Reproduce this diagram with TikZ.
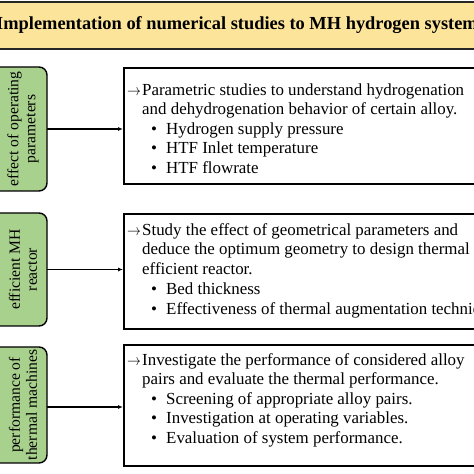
\documentclass[tikz,border=0pt]{standalone}
\usepackage{fontspec}
\setmainfont{Liberation Serif}
\usetikzlibrary{positioning,arrows.meta}

\definecolor{titlefill}{HTML}{FCE59B}
\definecolor{sidefill}{HTML}{A9D18E}

\newcommand{\arrline}[1]{\makebox[15pt][l]{\scalebox{0.8}[0.9]{$\rightarrow$}}#1}
\newcommand{\contline}[1]{\hspace*{15pt}#1}
\newcommand{\bulline}[1]{\hspace*{24pt}\makebox[15pt][l]{\textbullet}#1}

\begin{document}
\begin{tikzpicture}[x=1pt, y=1pt,
    sidebox/.style={draw, fill=sidefill, line width=1.4pt, rounded corners=8pt},
    sidetext/.style={rotate=90, align=center, inner sep=0pt, font=\fontsize{15.6}{17}\selectfont},
    infobox/.style={draw, line width=1.8pt},
    infotext/.style={anchor=north west, align=left, inner sep=0pt, font=\fontsize{16.9}{19.5}\selectfont},
    link/.style={-{Latex[length=5pt, width=4pt]}, line width=1.2pt}]
    \useasboundingbox (0,0) rectangle (474,474);
    \clip (0,0) rectangle (474,474);

    % title bar
    \draw [fill=titlefill, draw=black!85, line width=2.4pt] (-10,472) rectangle (490,425);
    \node [font=\fontsize{18.4}{21}\selectfont\bfseries] (title) at (237,449)
        {Implementation of numerical studies to MH hydrogen system};

    % left green boxes
    \draw [sidebox] (-30,407) rectangle (47,283);
    \draw [sidebox] (-30,261) rectangle (47,148);
    \draw [sidebox] (-30,127) rectangle (47,11);
    \node [sidetext] (side1) at (23,345) {effect of operating\\parameters};
    \node [sidetext] (side2) at (23,204.5) {efficient MH\\reactor};
    \node [sidetext] (side3) at (23,69) {performance of\\thermal machines};
    \coordinate (s1) at (47,345);
    \coordinate (s2) at (47,204.5);
    \coordinate (s3) at (47,67);

    % right boxes
    \node [infobox, minimum width=367, minimum height=116, anchor=north west] (info1) at (123,407) {};
    \node [infobox, minimum width=367, minimum height=115, anchor=north west] (info2) at (123,261) {};
    \node [infobox, minimum width=367, minimum height=121, anchor=north west] (info3) at (123,130) {};

    \node [infotext] (text1) at (127,390.5) {%
        \arrline{Parametric studies to understand hydrogenation}\\
        \contline{and dehydrogenation behavior of certain alloy.}\\
        \bulline{Hydrogen supply pressure}\\
        \bulline{HTF Inlet temperature}\\
        \bulline{HTF flowrate}};
    \node [infotext] (text2) at (127,251) {%
        \arrline{Study the effect of geometrical parameters and}\\
        \contline{deduce the optimum geometry to design thermal}\\
        \contline{efficient reactor.}\\[1pt]
        \bulline{Bed thickness}\\
        \bulline{Effectiveness of thermal augmentation techniques}};
    \node [infotext] (text3) at (127,121) {%
        \arrline{Investigate the performance of considered alloy}\\
        \contline{pairs and evaluate the thermal performance.}\\
        \bulline{Screening of appropriate alloy pairs.}\\
        \bulline{Investigation at operating variables.}\\
        \bulline{Evaluation of system performance.}};

    % connectors
    \draw [link] (s1) -- (s1 -| info1.west);
    \draw [link] (s2) -- (s2 -| info2.west);
    \draw [link] (s3) -- (s3 -| info3.west);
\end{tikzpicture}
\end{document}
